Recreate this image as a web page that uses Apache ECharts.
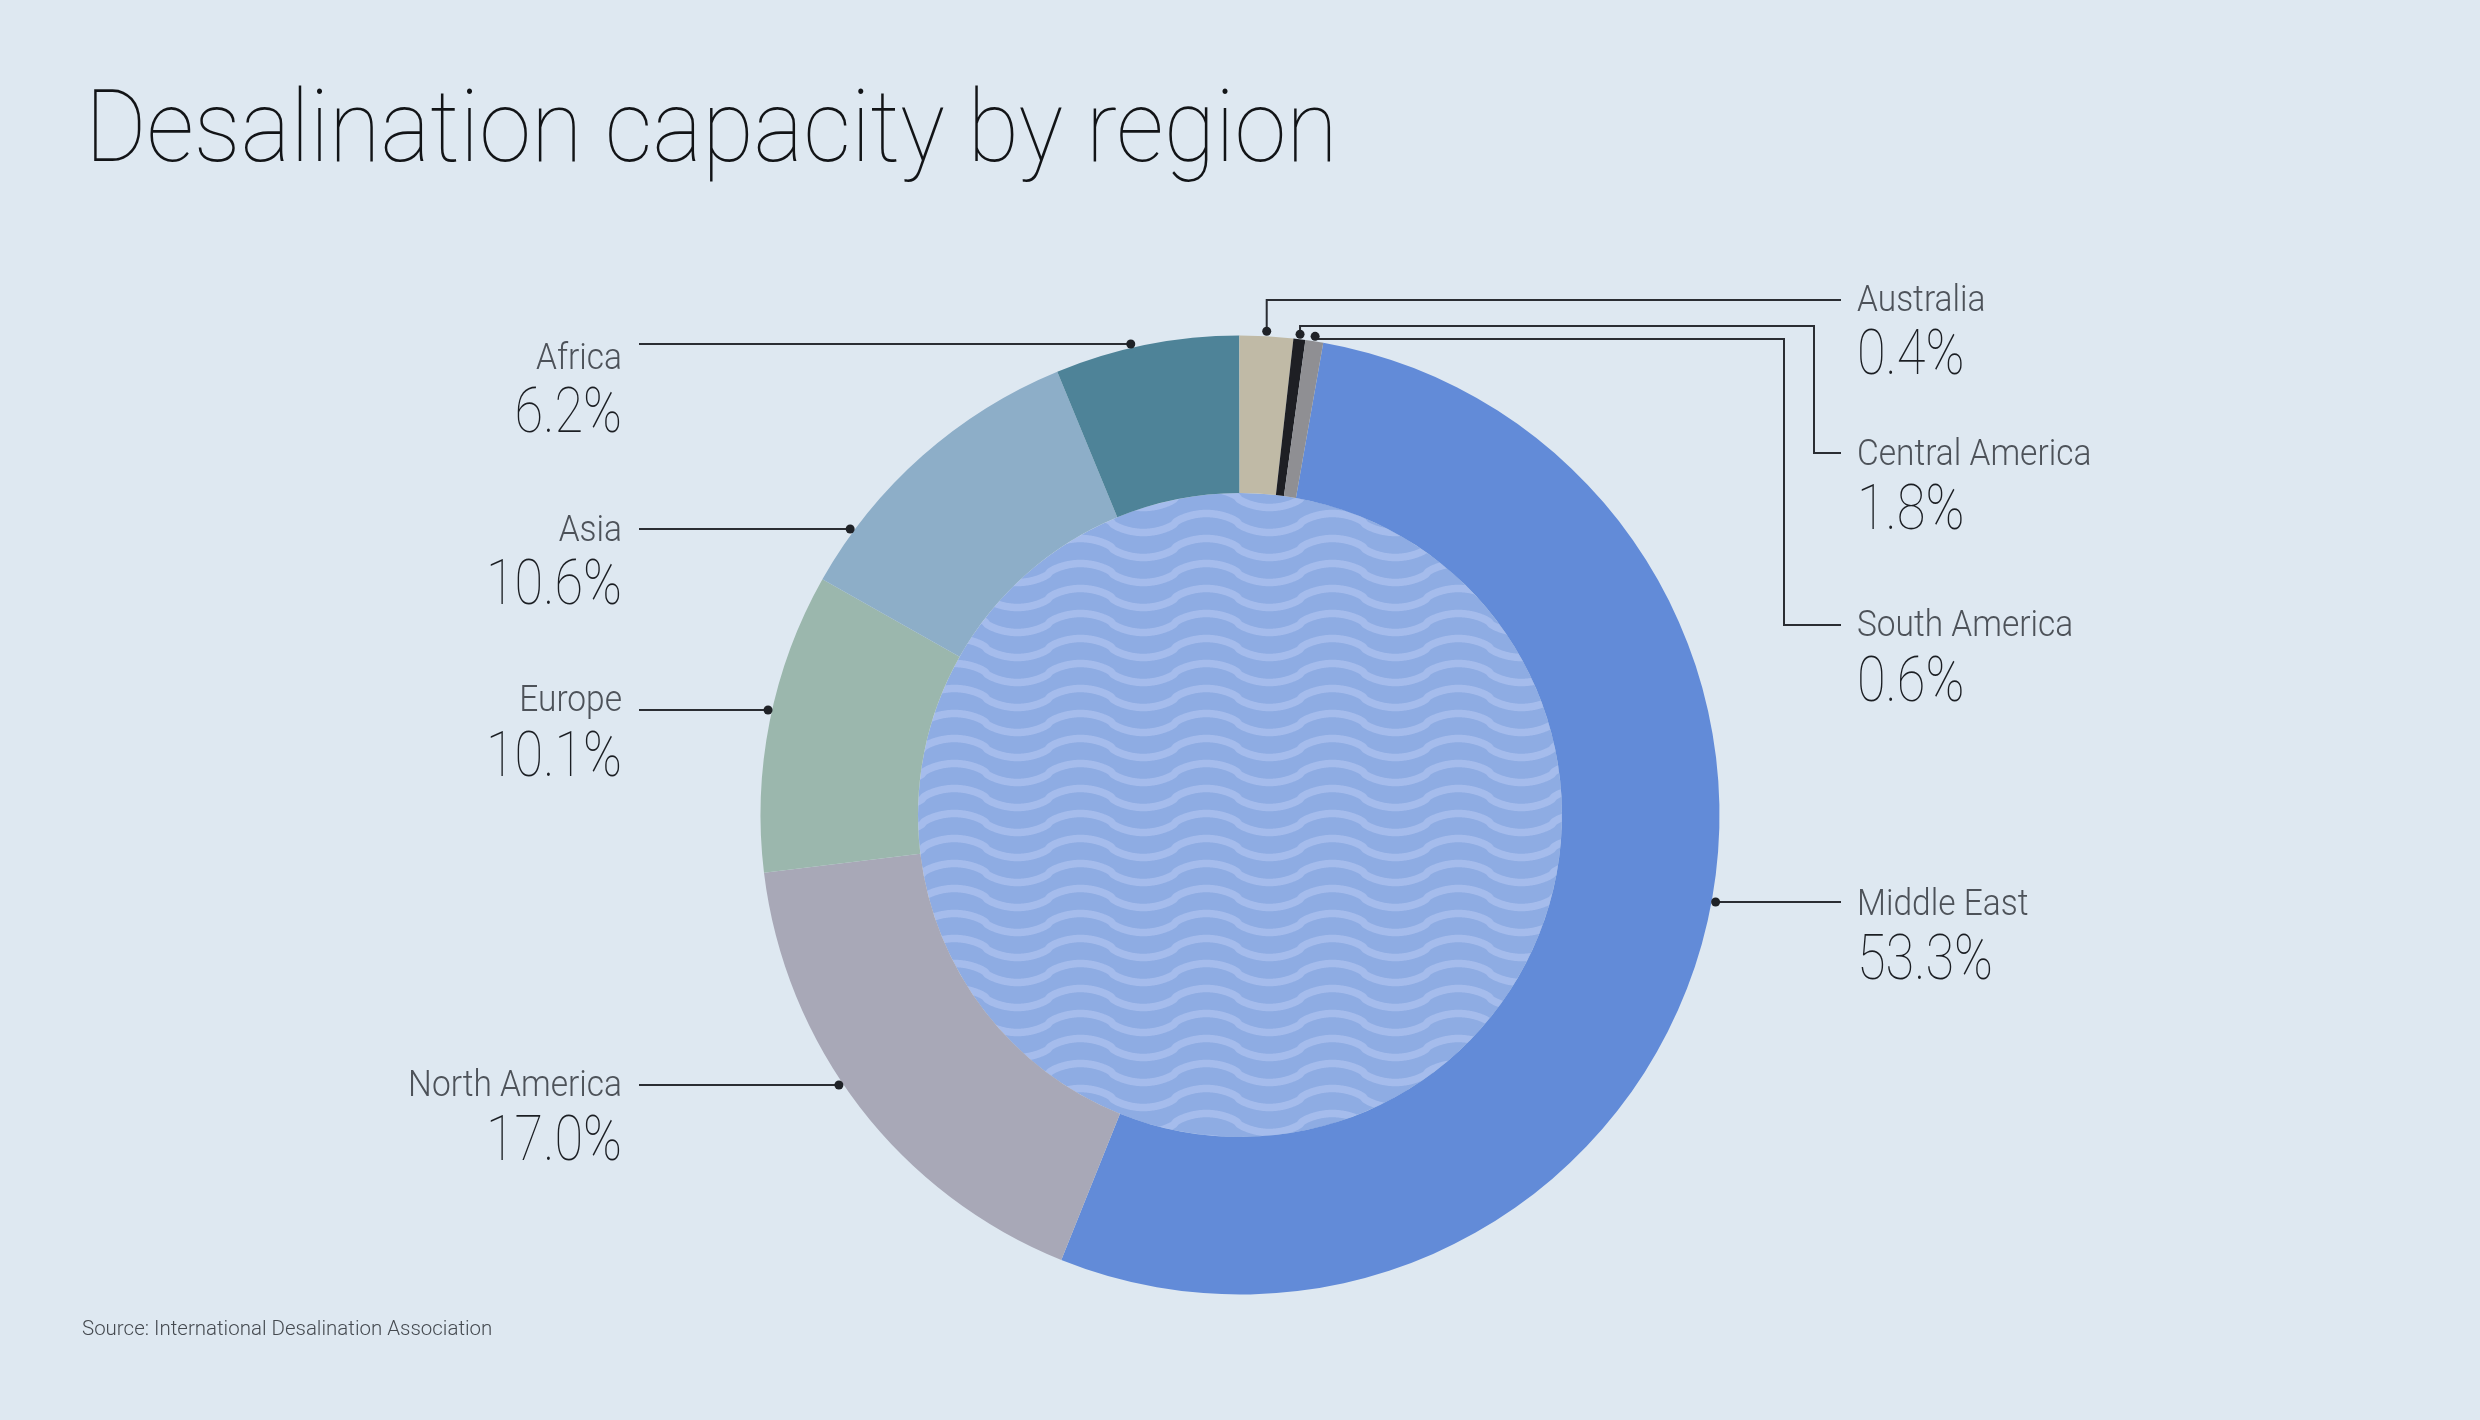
<!DOCTYPE html>
<html><head><meta charset="utf-8">
<script src="https://cdn.jsdelivr.net/npm/echarts@6/dist/echarts.min.js"></script>
<style>html,body{margin:0;padding:0;background:#dee8f1}#c{width:2480px;height:1420px}</style>
</head><body><div id="c"></div>
<script>
// ---- data ----
const CATEGORIES = ['Middle East','North America','Europe','Asia','Africa','Central America','Australia','South America'];
const VALUES = [53.3, 17.0, 10.1, 10.6, 6.2, 1.8, 0.4, 0.6];
const TITLE = 'Desalination capacity by region';
const SOURCE = 'Source: International Desalination Association';

// ---- styles / layout ----
const COLORS = ['#628bd8','#a8a8b7','#9bb7ad','#8daec8','#4e8398','#c0baa6','#1e1f24','#8f8f93'];
const BG = '#dee8f1', INNER_BG = '#8eace3', WAVE = '#a5bcec', LINE = '#2a2d33', DOT = '#1f2227';
const FONT = 'Roboto';
const CX = 1240, CY = 815, R_OUT = 479.5, R_IN = 322, START = 80, DOT_OFF = 4;
const LEFT_X = 622, LEFT_LINE_X = 639, RIGHT_X = 1857, RIGHT_LINE_X = 1841;
const NAME_FONT = '300 36px ' + FONT, NAME_SX = 0.93, NAME_COLOR = '#4d5259', NAME_DY = 4;
const PCT_FONT = '100 63px ' + FONT, PCT_SX = 0.83, PCT_COLOR = '#1b1e23', PCT_DY = 6;
const LABEL_POS = {
  'Middle East':     { side: 'right', nameY: 902,   pctY: 957,   lineY: 902 },
  'North America':   { side: 'left',  nameY: 1083,  pctY: 1138,  lineY: 1085 },
  'Europe':          { side: 'left',  nameY: 698,   pctY: 754,   lineY: 710 },
  'Asia':            { side: 'left',  nameY: 527.5, pctY: 582.5, lineY: 529 },
  'Africa':          { side: 'left',  nameY: 356,   pctY: 410.5, lineY: 344 },
  'Australia':       { side: 'right', nameY: 297.5, pctY: 352.5, lineY: 300, top: true, target: 'Central America' },
  'Central America': { side: 'right', nameY: 452,   pctY: 507,   lineY: 453, top: true, target: 'Australia', elbowX: 1814, runY: 326 },
  'South America':   { side: 'right', nameY: 623,   pctY: 679,   lineY: 625, top: true, target: 'South America', elbowX: 1784, runY: 339 }
};

const total = VALUES.reduce((a, b) => a + b, 0);
function midAngle(name) { // compass degrees, clockwise from 12 o'clock
  const i = CATEGORIES.indexOf(name);
  let cum = 0; for (let k = 0; k < i; k++) cum += VALUES[k];
  return (90 - START) + (cum + VALUES[i] / 2) / total * 360;
}
function leader(name) {
  const L = LABEL_POS[name];
  let dot, pts;
  if (!L.top) {
    const dy = L.lineY - CY, r = R_OUT + DOT_OFF;
    const dx = Math.sqrt(r * r - dy * dy);
    dot = [L.side === 'left' ? CX - dx : CX + dx, L.lineY];
    pts = [[L.side === 'left' ? LEFT_LINE_X : RIGHT_LINE_X, L.lineY], dot];
  } else {
    const a = midAngle(L.target) * Math.PI / 180, r = R_OUT + DOT_OFF + 1;
    dot = [CX + r * Math.sin(a), CY - r * Math.cos(a)];
    if (L.elbowX == null) pts = [[RIGHT_LINE_X, L.lineY], [dot[0], L.lineY], dot];
    else pts = [[RIGHT_LINE_X, L.lineY], [L.elbowX, L.lineY], [L.elbowX, L.runY], [dot[0], L.runY], dot];
  }
  return { dot, pts };
}

function makeWave() {
  const W = 126, H = 25, X0 = -22, Y0 = 10.5, A = 9.5;
  const c = document.createElement('canvas'); c.width = W; c.height = H;
  const g = c.getContext('2d');
  g.fillStyle = INNER_BG; g.fillRect(0, 0, W, H);
  g.strokeStyle = WAVE; g.lineWidth = 7.5; g.lineJoin = 'round';
  for (let k = -2; k <= 2; k++) {
    g.beginPath();
    for (let x = -3; x <= W + 3; x += 0.5) {
      const s = Math.sin(2 * Math.PI * (x - X0) / W);
      const y = H / 2 + Y0 + k * H + A * Math.sign(s) * Math.pow(Math.abs(s), 0.7);
      if (x === -3) g.moveTo(x, y); else g.lineTo(x, y);
    }
    g.stroke();
  }
  return c;
}

function txt(text, x, y, font, fill, align, sx) {
  return { type: 'text', x: x, y: y, scaleX: sx, silent: true, z: 50,
    style: { text: text, font: font, fill: fill, align: align, textAlign: align, verticalAlign: 'middle', textVerticalAlign: 'middle' } };
}

const graphics = [
  txt(TITLE, 85, 136, '100 100px ' + FONT, '#121417', 'left', 0.94),
  txt(SOURCE, 82, 1330, '300 21px ' + FONT, '#454a50', 'left', 0.975)
];
CATEGORIES.forEach((n, i) => {
  const L = LABEL_POS[n];
  const left = L.side === 'left';
  const x = left ? LEFT_X : RIGHT_X, al = left ? 'right' : 'left';
  graphics.push(txt(n, x, L.nameY + NAME_DY, NAME_FONT, NAME_COLOR, al, NAME_SX));
  graphics.push(txt(VALUES[i].toFixed(1) + '%', x, L.pctY + PCT_DY, PCT_FONT, PCT_COLOR, al, PCT_SX));
  const ld = leader(n);
  graphics.push({ type: 'polyline', silent: true, z: 40, shape: { points: ld.pts },
    style: { stroke: LINE, lineWidth: 2, fill: null } });
  graphics.push({ type: 'circle', silent: true, z: 45, shape: { cx: ld.dot[0], cy: ld.dot[1], r: 4.5 },
    style: { fill: DOT } });
});

const chart = echarts.init(document.getElementById('c'), null, { renderer: 'canvas' });
chart.setOption({
  backgroundColor: BG,
  animation: false,
  graphic: graphics,
  series: [
    {
      type: 'pie', center: [CX, CY], radius: [0, R_IN], silent: true, z: 1,
      label: { show: false }, labelLine: { show: false }, emphasis: { disabled: true },
      data: [{ value: 1, name: 'inner', itemStyle: { color: { image: makeWave(), repeat: 'repeat' } } }]
    },
    {
      type: 'pie', center: [CX, CY], radius: [R_IN, R_OUT], startAngle: START, clockwise: true,
      avoidLabelOverlap: false, silent: true, z: 2, emphasis: { disabled: true },
      label: { show: false }, labelLine: { show: false },
      data: CATEGORIES.map((n, i) => ({ name: n, value: VALUES[i], itemStyle: { color: COLORS[i] } }))
    }
  ]
});
</script></body></html>
